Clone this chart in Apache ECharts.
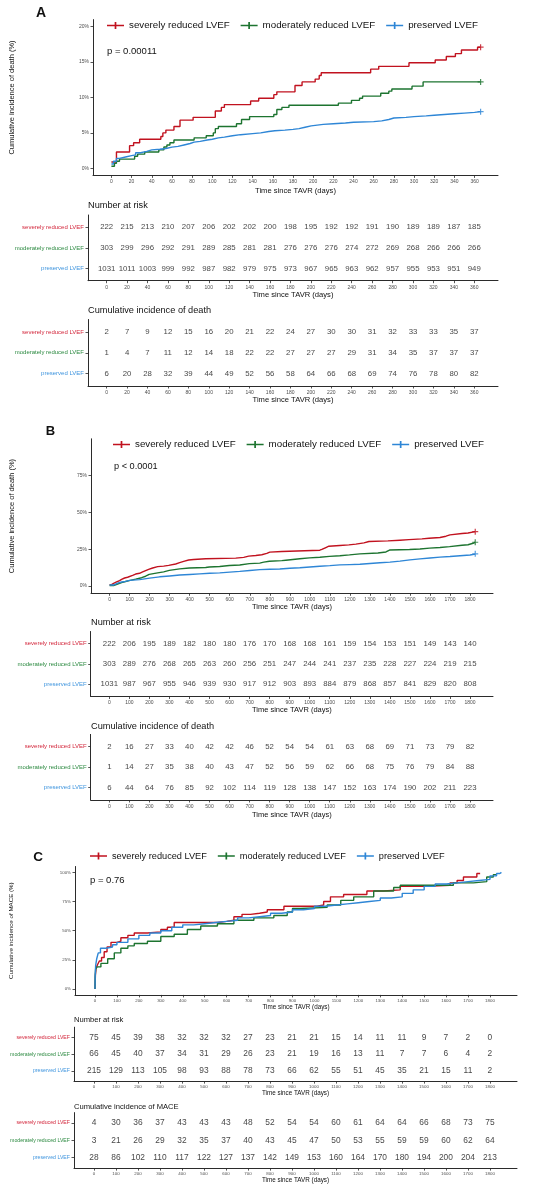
<!DOCTYPE html>
<html><head><meta charset="utf-8">
<script src="https://cdn.jsdelivr.net/npm/echarts@6/dist/echarts.min.js"></script>
<style>html,body{margin:0;padding:0;background:#fff}#c{width:550px;height:1187px}</style>
</head><body><div id="c"></div><script>
// ---------- categories / labels ----------
const groups = ['severely reduced LVEF', 'moderately reduced LVEF', 'preserved LVEF'];
const ticksA = [0,20,40,60,80,100,120,140,160,180,200,220,240,260,280,300,320,340,360];
const ticks5y = [0,100,200,300,400,500,600,700,800,900,1000,1100,1200,1300,1400,1500,1600,1700,1800];
const yTicksA = [0,5,10,15,20];
const yTicksB = [0,25,50,75];
const yTicksC = [0,25,50,75,100];

// ---------- Panel A curves (day, cumulative %) ----------
const A_severe = [[0,0.9],[5,2.3],[18,3.2],[22,3.6],[28,4.1],[49,4.5],[51,5.0],[54,5.4],[62,5.9],[68,6.8],[81,7.2],[103,8.1],[109,8.6],[112,9.0],[138,9.5],[146,9.9],[161,10.4],[164,10.8],[182,11.7],[189,12.2],[202,12.6],[206,13.1],[208,13.5],[257,14.0],[265,14.4],[295,14.9],[321,15.3],[332,15.8],[341,16.2],[347,16.7],[363,17.1],[366,17.1]];
const A_moderate = [[0,0.3],[3,0.7],[5,1.0],[8,1.3],[23,1.7],[26,2.0],[33,2.3],[47,2.6],[52,3.0],[55,3.3],[58,3.6],[62,4.0],[82,4.3],[94,4.6],[101,5.0],[103,5.6],[106,5.9],[124,6.3],[129,6.9],[137,7.3],[161,7.6],[164,8.3],[169,8.6],[176,8.9],[225,9.2],[238,9.6],[246,9.9],[249,10.2],[267,10.6],[275,10.9],[278,11.2],[298,11.6],[309,12.2],[366,12.2]];
const A_preserved = [[0,0.6],[2,1.0],[5,1.4],[8,1.6],[14,1.8],[20,1.9],[24,2.2],[29,2.4],[35,2.6],[40,2.7],[48,2.8],[54,3.0],[60,3.1],[66,3.3],[72,3.5],[78,3.7],[82,3.8],[88,4.0],[95,4.1],[100,4.3],[106,4.4],[112,4.6],[120,4.75],[128,4.9],[140,5.0],[148,5.2],[156,5.3],[162,5.4],[172,5.5],[180,5.6],[186,5.8],[192,6.0],[198,6.2],[210,6.3],[220,6.4],[232,6.5],[240,6.6],[260,6.7],[268,6.9],[275,7.1],[280,7.2],[292,7.3],[300,7.4],[312,7.5],[320,7.6],[330,7.7],[340,7.8],[350,7.9],[360,8.0],[366,8.0]];

// ---------- Panel A tables ----------
const A_risk_severe = [222,215,213,210,207,206,202,202,200,198,195,192,192,191,190,189,189,187,185];
const A_risk_moderate = [303,299,296,292,291,289,285,281,281,276,276,276,274,272,269,268,266,266,266];
const A_risk_preserved = [1031,1011,1003,999,992,987,982,979,975,973,967,965,963,962,957,955,953,951,949];
const A_cum_severe = [2,7,9,12,15,16,20,21,22,24,27,30,30,31,32,33,33,35,37];
const A_cum_moderate = [1,4,7,11,12,14,18,22,22,27,27,27,29,31,34,35,37,37,37];
const A_cum_preserved = [6,20,28,32,39,44,49,52,56,58,64,66,68,69,74,76,78,80,82];

// ---------- Panel B curves ----------
const B_severe = [[0,0.9],[10,1.8],[20,2.7],[35,3.6],[50,4.5],[60,5.4],[75,5.9],[90,6.8],[98,7.2],[115,8.1],[130,8.6],[150,9.5],[165,10.4],[180,11.3],[195,12.2],[215,13.1],[240,13.5],[270,14.0],[295,14.9],[330,15.8],[350,16.7],[370,17.6],[395,18.0],[420,18.5],[480,18.9],[630,19.4],[670,20.3],[695,20.7],[730,21.2],[760,22.1],[785,23.0],[800,23.4],[860,24.3],[1050,24.8],[1060,26.1],[1080,27.0],[1095,27.5],[1150,27.9],[1195,28.4],[1230,29.3],[1270,30.2],[1295,30.6],[1390,31.1],[1450,31.5],[1495,32.0],[1560,32.4],[1595,32.9],[1650,33.8],[1680,34.7],[1700,35.6],[1760,36.0],[1790,36.9],[1826,36.9]];
const B_moderate = [[0,0.3],[20,1.3],[40,2.3],[60,3.0],[80,3.6],[98,4.6],[130,5.6],[160,6.6],[180,7.9],[198,8.9],[240,9.6],[270,10.6],[298,11.6],[350,12.2],[398,12.5],[480,12.9],[498,13.2],[550,13.9],[598,14.2],[650,15.2],[698,15.5],[750,16.2],[770,16.8],[798,17.2],[860,17.5],[880,18.5],[950,19.1],[998,19.5],[1050,20.1],[1098,20.5],[1150,21.1],[1198,21.8],[1250,22.4],[1340,23.1],[1380,24.4],[1398,24.8],[1498,25.1],[1550,25.7],[1598,26.1],[1650,26.7],[1698,27.7],[1760,28.0],[1790,28.7],[1798,29.0],[1815,29.7],[1826,29.7]];
const B_preserved = [[0,0.6],[20,1.9],[40,2.7],[60,3.1],[80,3.8],[100,4.3],[150,5.3],[200,6.2],[250,6.8],[300,7.4],[350,7.8],[400,8.2],[450,8.6],[500,8.9],[550,9.4],[600,9.9],[650,10.5],[700,11.1],[750,11.3],[800,11.5],[850,12.0],[900,12.4],[950,12.9],[1000,13.4],[1050,13.8],[1100,14.3],[1150,14.5],[1200,14.7],[1250,15.3],[1300,15.8],[1350,16.2],[1400,16.9],[1450,17.7],[1500,18.4],[1550,19.0],[1600,19.6],[1650,20.0],[1700,20.5],[1750,21.0],[1800,21.6],[1826,21.8]];

// ---------- Panel B tables ----------
const B_risk_severe = [222,206,195,189,182,180,180,176,170,168,168,161,159,154,153,151,149,143,140];
const B_risk_moderate = [303,289,276,268,265,263,260,256,251,247,244,241,237,235,228,227,224,219,215];
const B_risk_preserved = [1031,987,967,955,946,939,930,917,912,903,893,884,879,868,857,841,829,820,808];
const B_cum_severe = [2,16,27,33,40,42,42,46,52,54,54,61,63,68,69,71,73,79,82];
const B_cum_moderate = [1,14,27,35,38,40,43,47,52,56,59,62,66,68,75,76,79,84,88];
const B_cum_preserved = [6,44,64,76,85,92,102,114,119,128,138,147,152,163,174,190,202,211,223];

// ---------- Panel C curves ----------
const C_severe = [[0,0],[1,5],[2,12],[5,18],[12,21],[20,24],[30,27],[42,32],[55,36],[73,40],[100,41],[118,44],[150,46],[179,48],[239,49],[300,51],[330,53],[361,57],[520,57],[558,58],[600,59],[633,62],[670,64],[709,65],[750,66],[785,68],[861,71],[1012,72],[1042,75],[1073,79],[1133,81],[1239,84],[1315,85],[1391,88],[1512,89],[1618,91],[1650,93],[1679,96],[1740,99],[1755,99]];
const C_moderate = [[0,0],[1,10],[3,17],[10,19],[27,22],[58,26],[88,31],[118,35],[150,37],[179,39],[239,41],[300,45],[361,47],[421,51],[482,54],[558,56],[633,59],[724,61],[815,63],[876,66],[900,69],[936,70],[1058,72],[1120,76],[1179,79],[1270,84],[1361,87],[1391,89],[1542,89],[1633,91],[1724,92],[1785,96],[1815,98],[1830,98]];
const C_preserved = [[0,0],[1,12],[3,20],[8,26],[15,31],[25,35],[50,36],[80,38],[100,40],[150,43],[200,46],[250,48],[300,50],[350,53],[400,55],[450,56],[500,57],[550,58],[600,59],[650,61],[700,62],[750,63],[800,65],[850,66],[900,68],[950,69],[1000,71],[1050,72],[1100,73],[1150,74],[1200,75],[1250,76],[1300,78],[1350,79],[1400,82],[1450,85],[1500,88],[1550,90],[1600,91],[1650,92],[1700,93],[1750,94],[1800,97],[1830,99],[1845,100],[1852,100]];

// ---------- Panel C tables ----------
const C_risk_severe = [75,45,39,38,32,32,32,27,23,21,21,15,14,11,11,9,7,2,0];
const C_risk_moderate = [66,45,40,37,34,31,29,26,23,21,19,16,13,11,7,7,6,4,2];
const C_risk_preserved = [215,129,113,105,98,93,88,78,73,66,62,55,51,45,35,21,15,11,2];
const C_cum_severe = [4,30,36,37,43,43,43,48,52,54,54,60,61,64,64,66,68,73,75];
const C_cum_moderate = [3,21,26,29,32,35,37,40,43,45,47,50,53,55,59,59,60,62,64];
const C_cum_preserved = [28,86,102,110,117,122,127,137,142,149,153,160,164,170,180,194,200,204,213];

// ---------- styling ----------
const FONT = '"Liberation Sans", Arial, sans-serif';
const lineColors = ['#c1121f', '#1d7430', '#2e86d6'];
const rowColors = ['#d3263b', '#2c8a41', '#3f95de'];
const plusIcon = 'path://M4,0h2v10h-2z M0,4h10v2h-10z';
const legendIcon = 'path://M0,2.4h16v1.6h-16z M7.2,0h1.6v6.4h-1.6z';
const axisCol = '#2b2b2b';
const tickLabelCol = '#4d4d4d';

const grids = [], xAxes = [], yAxes = [], series = [];

function xAxisCfg(gi, g, ticks, nameGap, nameSize, tickSize) {
  return {
    gridIndex: gi, type: 'value', min: g.xmin, max: g.xmax,
    axisLine: { show: true, onZero: false, lineStyle: { color: axisCol, width: 1 } },
    axisTick: { show: true, customValues: ticks, length: 2.5, lineStyle: { color: axisCol, width: 0.8 } },
    axisLabel: { show: true, customValues: ticks, formatter: v => String(v), fontSize: tickSize, color: tickLabelCol, margin: 4, fontFamily: FONT, hideOverlap: false },
    splitLine: { show: false },
    name: 'Time since TAVR (days)', nameLocation: 'middle', nameGap: nameGap,
    nameTextStyle: { fontSize: nameSize, color: '#111', fontFamily: FONT }
  };
}

function addPlot(g) {
  const gi = grids.length;
  grids.push({ left: g.left, top: g.top, width: g.width, height: g.height, containLabel: false });
  xAxes.push(xAxisCfg(gi, g, g.xticks, g.xNameGap, g.xNameSize, g.tickSize));
  yAxes.push({
    gridIndex: gi, type: 'value', min: g.ymin, max: g.ymax,
    axisLine: { show: true, onZero: false, lineStyle: { color: axisCol, width: 1 } },
    axisTick: { show: true, customValues: g.yticks, length: 2.5, lineStyle: { color: axisCol, width: 0.8 } },
    axisLabel: { show: true, customValues: g.yticks, formatter: v => v + '%', fontSize: g.tickSize, color: tickLabelCol, margin: 4, fontFamily: FONT },
    splitLine: { show: false },
    name: g.yname, nameLocation: 'middle', nameRotate: 90, nameGap: g.yNameGap,
    nameTextStyle: { fontSize: g.yNameSize, color: '#111', fontFamily: FONT }
  });
  g.data.forEach((d, k) => {
    series.push({
      name: groups[k], type: 'line', step: 'end', xAxisIndex: gi, yAxisIndex: gi,
      data: d, symbol: 'none', showSymbol: false, silent: true,
      lineStyle: { color: lineColors[k], width: 1.4 }, itemStyle: { color: lineColors[k] },
      z: 3 + k
    });
    if (g.endMark) {
      series.push({
        name: groups[k], type: 'scatter', xAxisIndex: gi, yAxisIndex: gi,
        data: [d[d.length - 1]], symbol: plusIcon, symbolSize: 6, silent: true,
        itemStyle: { color: lineColors[k] }, z: 6
      });
    }
  });
}

function addTable(t) {
  const gi = grids.length;
  grids.push({ left: t.left, top: t.top, width: t.width, height: t.height, containLabel: false });
  xAxes.push(xAxisCfg(gi, t, t.xticks, t.xNameGap, t.xNameSize, t.tickSize));
  const rich = {};
  rowColors.forEach((c, k) => { rich['r' + k] = { color: c, fontSize: t.labelSize, fontFamily: FONT }; });
  yAxes.push({
    gridIndex: gi, type: 'value', inverse: true, min: 0.4, max: 3.6,
    axisLine: { show: true, onZero: false, lineStyle: { color: axisCol, width: 1 } },
    axisTick: { show: true, customValues: [1, 2, 3], length: 2.5, lineStyle: { color: axisCol, width: 0.8 } },
    axisLabel: { show: true, customValues: [1, 2, 3], margin: 4,
      formatter: v => { const k = Math.round(v) - 1; return '{r' + k + '|' + groups[k] + '}'; }, rich: rich },
    splitLine: { show: false }
  });
  t.rows.forEach((vals, k) => {
    series.push({
      name: 'table' + gi + '_' + k, type: 'scatter', xAxisIndex: gi, yAxisIndex: gi,
      data: t.xticks.map((x, i) => [x, k + 1, vals[i]]),
      symbolSize: 1, itemStyle: { color: 'rgba(0,0,0,0)' }, silent: true,
      label: { show: true, position: 'inside', formatter: p => p.value[2], color: '#111', fontSize: t.numSize, fontFamily: FONT }
    });
  });
}

// Panel A
const gA = { left: 88, width: 410, xmin: -18.25, xmax: 383.25, xticks: ticksA, tickSize: 5, xNameSize: 7.6 };
addPlot(Object.assign({}, gA, { top: 19.6, height: 155.8, ymin: -1, ymax: 21, yticks: yTicksA,
  yname: 'Cumulative incidence of death (%)', yNameGap: 77, yNameSize: 7.5, xNameGap: 12, endMark: true,
  data: [A_severe, A_moderate, A_preserved] }));
addTable(Object.assign({}, gA, { top: 215, height: 65.7, xNameGap: 9.8, labelSize: 6, numSize: 7.8,
  rows: [A_risk_severe, A_risk_moderate, A_risk_preserved] }));
addTable(Object.assign({}, gA, { top: 319.5, height: 66.5, xNameGap: 9.2, labelSize: 6, numSize: 7.8,
  rows: [A_cum_severe, A_cum_moderate, A_cum_preserved] }));

// Panel B
const gB = { left: 90.7, width: 402.3, xmin: -92.8, xmax: 1914.7, xticks: ticks5y, tickSize: 5, xNameSize: 7.5 };
addPlot(Object.assign({}, gB, { top: 438.8, height: 154.5, ymin: -5, ymax: 100, yticks: yTicksB,
  yname: 'Cumulative incidence of death (%)', yNameGap: 75, yNameSize: 7.5, xNameGap: 9.8, endMark: true,
  data: [B_severe, B_moderate, B_preserved] }));
addTable(Object.assign({}, gB, { top: 631.5, height: 65, xNameGap: 9.8, labelSize: 6, numSize: 7.8,
  rows: [B_risk_severe, B_risk_moderate, B_risk_preserved] }));
addTable(Object.assign({}, gB, { top: 734.4, height: 65.6, xNameGap: 10.5, labelSize: 6, numSize: 7.8,
  rows: [B_cum_severe, B_cum_moderate, B_cum_preserved] }));

// Panel C
const gC = { left: 74, width: 443, xmin: -91, xmax: 1923, xticks: ticks5y, tickSize: 4.4, xNameSize: 6.3 };
addPlot(Object.assign({}, gC, { top: 866.5, height: 128.4, ymin: -5, ymax: 105, yticks: yTicksC,
  yname: 'Cumulative incidence of MACE (%)', yNameGap: 61, yNameSize: 6.2, xNameGap: 8.8, endMark: false,
  data: [C_severe, C_moderate, C_preserved] }));
addTable(Object.assign({}, gC, { top: 1027.2, height: 53.9, xNameGap: 8.5, labelSize: 5.2, numSize: 8.4,
  rows: [C_risk_severe, C_risk_moderate, C_risk_preserved] }));
addTable(Object.assign({}, gC, { top: 1112.6, height: 55.5, xNameGap: 7.1, labelSize: 5.2, numSize: 8.4,
  rows: [C_cum_severe, C_cum_moderate, C_cum_preserved] }));

function legendCfg(left, top, size) {
  return {
    data: groups.map(n => ({ name: n, icon: legendIcon })),
    left: left, top: top, padding: 0, itemWidth: 17, itemHeight: 7, itemGap: 11,
    selectedMode: false, textStyle: { fontSize: size, color: '#111', fontFamily: FONT }
  };
}

function txt(x, y, text, size, weight, align) {
  return { type: 'text', x: x, y: y, silent: true,
    style: { text: text, fontSize: size, fontWeight: weight || 'normal', fill: '#111',
      fontFamily: FONT, textAlign: align || 'left', textVerticalAlign: 'middle' } };
}

const option = {
  animation: false,
  backgroundColor: '#fff',
  grid: grids, xAxis: xAxes, yAxis: yAxes, series: series,
  legend: [legendCfg(107, 20.5, 9.75), legendCfg(113, 439.5, 9.75), legendCfg(90, 851.5, 9.2)],
  graphic: [
    txt(41, 13, 'A', 14, 'bold', 'center'),
    txt(107, 51, 'p = 0.00011', 9.5),
    txt(88, 205.7, 'Number at risk', 9.2),
    txt(88, 310.7, 'Cumulative incidence of death', 9.2),
    txt(50.5, 431.7, 'B', 13, 'bold', 'center'),
    txt(114, 466.7, 'p < 0.0001', 9.2),
    txt(91, 622.7, 'Number at risk', 9.2),
    txt(91, 726, 'Cumulative incidence of death', 9.2),
    txt(38, 857, 'C', 13.5, 'bold', 'center'),
    txt(90, 880, 'p = 0.76', 9.5),
    txt(74, 1020.3, 'Number at risk', 7.6),
    txt(74, 1106.7, 'Cumulative incidence of MACE', 7.6)
  ]
};

const chart = echarts.init(document.getElementById('c'), null, { renderer: 'canvas' });
chart.setOption(option);
</script></body></html>
